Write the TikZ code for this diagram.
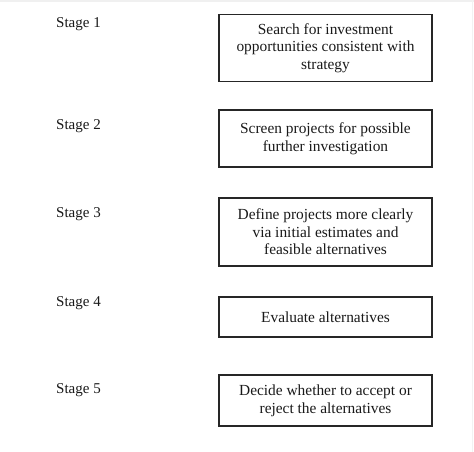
\documentclass[tikz,border=0pt]{standalone}
\usepackage{fontspec}
\setmainfont{Liberation Serif}
\begin{document}
\begin{tikzpicture}[x=1pt,y=1pt,
  stagebox/.style={draw=black!85, line width=1.1pt, minimum width=213pt, align=center, inner sep=0pt,
    font=\fontsize{15.4}{17.6}\selectfont, text=black!90},
  stagelabel/.style={anchor=west, inner sep=0pt, font=\fontsize{15}{17.5}\selectfont, text=black!90}]
\useasboundingbox (0,0) rectangle (474,452);
\draw[gray!12, line width=2pt] (0,451) -- (474,451);
\draw[gray!10, line width=1pt] (472,0) -- (472,452);
\node[stagebox, minimum height=67pt] (b1) at (325.5,{452-48}) {Search for investment\\opportunities consistent with\\strategy};
\node[stagebox, minimum height=57pt] (b2) at (325.5,{452-138.5}) {Screen projects for possible\\further investigation};
\node[stagebox, minimum height=68pt] (b3) at (325.5,{452-232}) {Define projects more clearly\\via initial estimates and\\feasible alternatives};
\node[stagebox, minimum height=40pt] (b4) at (325.5,{452-317}) {Evaluate alternatives};
\node[stagebox, minimum height=51pt] (b5) at (325.5,{452-400.5}) {Decide whether to accept or\\reject the alternatives};
\node[stagelabel] (s1) at (56,{452-24.5}) {Stage 1};
\node[stagelabel] (s2) at (56,{452-126.5}) {Stage 2};
\node[stagelabel] (s3) at (56,{452-214}) {Stage 3};
\node[stagelabel] (s4) at (56,{452-303}) {Stage 4};
\node[stagelabel] (s5) at (56,{452-390.5}) {Stage 5};
\end{tikzpicture}
\end{document}
